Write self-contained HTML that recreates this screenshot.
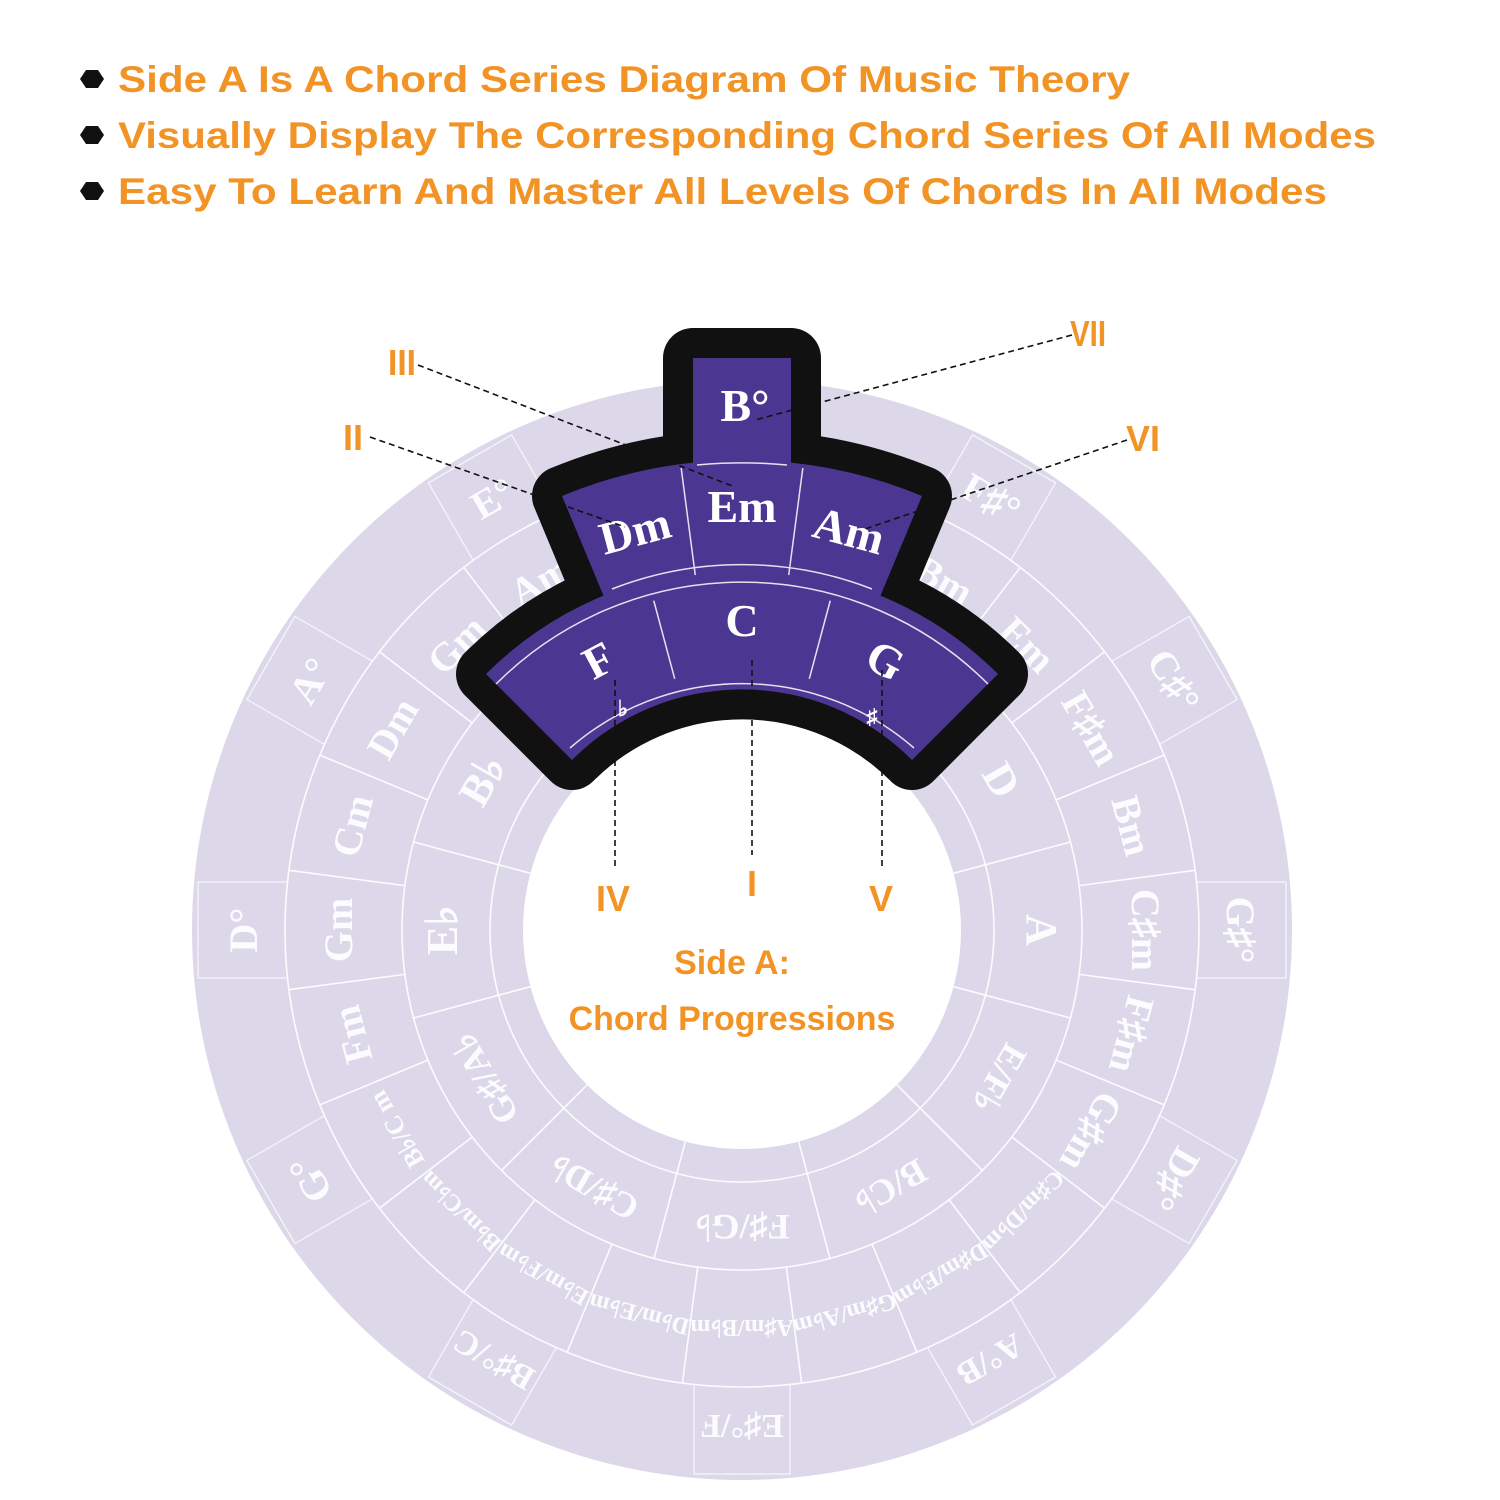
<!DOCTYPE html>
<html><head><meta charset="utf-8"><style>
html,body{margin:0;padding:0;background:#fff;}
svg{display:block;}
</style></head><body>
<svg width="1500" height="1500" viewBox="0 0 1500 1500" xmlns="http://www.w3.org/2000/svg">
<rect width="1500" height="1500" fill="#fff"/>
<g font-family="Liberation Sans, sans-serif" font-weight="bold" font-size="37" fill="#f29326">
<polygon points="86,70 98,70 104,79 98,88 86,88 80,79" fill="#111"/>
<polygon points="86,126 98,126 104,135 98,144 86,144 80,135" fill="#111"/>
<polygon points="86,182 98,182 104,191 98,200 86,200 80,191" fill="#111"/>
<text x="118" y="92" textLength="1012" lengthAdjust="spacingAndGlyphs">Side A Is A Chord Series Diagram Of Music Theory</text>
<text x="118" y="148" textLength="1258" lengthAdjust="spacingAndGlyphs">Visually Display The Corresponding Chord Series Of All Modes</text>
<text x="118" y="204" textLength="1209" lengthAdjust="spacingAndGlyphs">Easy To Learn And Master All Levels Of Chords In All Modes</text>
</g>
<circle cx="742" cy="930" r="550" fill="#dcd8ea"/>
<g fill="none" stroke="#fff" stroke-width="1.6" opacity="0.9">
<circle cx="742" cy="930" r="252"/>
<circle cx="742" cy="930" r="340"/>
<circle cx="742" cy="930" r="457"/>
</g>
<g stroke="#fff" stroke-width="1.6" opacity="0.9">
<g id="r1"><line x1="742" y1="711" x2="742" y2="590" transform="rotate(15 742 930)"/></g>
<use href="#r1" transform="rotate(30 742 930)"/><use href="#r1" transform="rotate(60 742 930)"/><use href="#r1" transform="rotate(90 742 930)"/><use href="#r1" transform="rotate(120 742 930)"/><use href="#r1" transform="rotate(150 742 930)"/><use href="#r1" transform="rotate(180 742 930)"/><use href="#r1" transform="rotate(210 742 930)"/><use href="#r1" transform="rotate(240 742 930)"/><use href="#r1" transform="rotate(270 742 930)"/><use href="#r1" transform="rotate(300 742 930)"/><use href="#r1" transform="rotate(330 742 930)"/>
<g id="r2"><line x1="742" y1="590" x2="742" y2="473" transform="rotate(7.5 742 930)"/></g>
<use href="#r2" transform="rotate(15 742 930)"/><use href="#r2" transform="rotate(30 742 930)"/><use href="#r2" transform="rotate(45 742 930)"/><use href="#r2" transform="rotate(60 742 930)"/><use href="#r2" transform="rotate(75 742 930)"/><use href="#r2" transform="rotate(90 742 930)"/><use href="#r2" transform="rotate(105 742 930)"/><use href="#r2" transform="rotate(120 742 930)"/><use href="#r2" transform="rotate(135 742 930)"/><use href="#r2" transform="rotate(150 742 930)"/><use href="#r2" transform="rotate(165 742 930)"/><use href="#r2" transform="rotate(180 742 930)"/><use href="#r2" transform="rotate(195 742 930)"/><use href="#r2" transform="rotate(210 742 930)"/><use href="#r2" transform="rotate(225 742 930)"/><use href="#r2" transform="rotate(240 742 930)"/><use href="#r2" transform="rotate(255 742 930)"/><use href="#r2" transform="rotate(270 742 930)"/><use href="#r2" transform="rotate(285 742 930)"/><use href="#r2" transform="rotate(300 742 930)"/><use href="#r2" transform="rotate(315 742 930)"/><use href="#r2" transform="rotate(330 742 930)"/><use href="#r2" transform="rotate(345 742 930)"/>
<g id="r3"><path d="M694,475 L694,386 L790,386 L790,475" fill="none" stroke-width="1.3" opacity="0.8"/></g>
<use href="#r3" transform="rotate(30 742 930)"/><use href="#r3" transform="rotate(60 742 930)"/><use href="#r3" transform="rotate(90 742 930)"/><use href="#r3" transform="rotate(120 742 930)"/><use href="#r3" transform="rotate(150 742 930)"/><use href="#r3" transform="rotate(180 742 930)"/><use href="#r3" transform="rotate(210 742 930)"/><use href="#r3" transform="rotate(240 742 930)"/><use href="#r3" transform="rotate(270 742 930)"/><use href="#r3" transform="rotate(300 742 930)"/><use href="#r3" transform="rotate(330 742 930)"/>
</g>
<circle cx="742" cy="930" r="219" fill="#fff"/>
<g font-family="Liberation Serif, serif" font-weight="bold" fill="#fff" opacity="0.9" text-anchor="middle">
<g font-size="44">
<text x="742" y="645" transform="rotate(30 742 930)">G</text>
<text x="742" y="645" transform="rotate(60 742 930)">D</text>
<text x="742" y="645" transform="rotate(90 742 930)">A</text>
<text x="742" y="645" transform="rotate(120 742 930)" font-size="36">E/F♭</text>
<text x="742" y="645" transform="rotate(150 742 930)" font-size="36">B/C♭</text>
<text x="742" y="645" transform="rotate(180 742 930)" font-size="36">F♯/G♭</text>
<text x="742" y="645" transform="rotate(210 742 930)" font-size="36">C♯/D♭</text>
<text x="742" y="645" transform="rotate(240 742 930)" font-size="36">G♯/A♭</text>
<text x="742" y="645" transform="rotate(270 742 930)">E♭</text>
<text x="742" y="645" transform="rotate(300 742 930)">B♭</text>
<text x="742" y="645" transform="rotate(330 742 930)">F</text>
</g>
<g font-size="40">
<text x="742" y="540" transform="rotate(30 742 930)">Bm</text>
<text x="742" y="540" transform="rotate(45 742 930)">Em</text>
<text x="742" y="540" transform="rotate(60 742 930)">F♯m</text>
<text x="742" y="540" transform="rotate(75 742 930)">Bm</text>
<text x="742" y="540" transform="rotate(90 742 930)">C♯m</text>
<text x="742" y="540" transform="rotate(105 742 930)">F♯m</text>
<text x="742" y="540" transform="rotate(120 742 930)">G♯m</text>
<text x="742" y="540" transform="rotate(135 742 930)" font-size="24">C♯m/D♭m</text>
<text x="742" y="540" transform="rotate(150 742 930)" font-size="24">D♯m/E♭m</text>
<text x="742" y="540" transform="rotate(165 742 930)" font-size="24">G♯m/A♭m</text>
<text x="742" y="540" transform="rotate(180 742 930)" font-size="24">A♯m/B♭m</text>
<text x="742" y="540" transform="rotate(195 742 930)" font-size="24">D♭m/E♭m</text>
<text x="742" y="540" transform="rotate(210 742 930)" font-size="24">E♭m/F♭m</text>
<text x="742" y="540" transform="rotate(225 742 930)" font-size="24">B♭m/C♭m</text>
<text x="742" y="540" transform="rotate(240 742 930)" font-size="26">B♭/C m</text>
<text x="742" y="540" transform="rotate(255 742 930)">Fm</text>
<text x="742" y="540" transform="rotate(270 742 930)">Gm</text>
<text x="742" y="540" transform="rotate(285 742 930)">Cm</text>
<text x="742" y="540" transform="rotate(300 742 930)">Dm</text>
<text x="742" y="540" transform="rotate(315 742 930)">Gm</text>
<text x="742" y="540" transform="rotate(330 742 930)">Am</text>
</g>
<g font-size="40">
<text x="742" y="445" transform="rotate(30 742 930)">F♯°</text>
<text x="742" y="445" transform="rotate(60 742 930)">C♯°</text>
<text x="742" y="445" transform="rotate(90 742 930)">G♯°</text>
<text x="742" y="445" transform="rotate(120 742 930)">D♯°</text>
<text x="742" y="445" transform="rotate(150 742 930)" font-size="34">A°/B</text>
<text x="742" y="445" transform="rotate(180 742 930)" font-size="34">E♯°/F</text>
<text x="742" y="445" transform="rotate(210 742 930)" font-size="34">B♯°/C</text>
<text x="742" y="445" transform="rotate(240 742 930)">G°</text>
<text x="742" y="445" transform="rotate(270 742 930)">D°</text>
<text x="742" y="445" transform="rotate(300 742 930)">A°</text>
<text x="742" y="445" transform="rotate(330 742 930)">E°</text>
</g>
</g>
<path d="M572,760 L486,674 A362,362 0 0 1 603.5,595.6 L562,496 A470,470 0 0 1 693,462.6 L693,358 L791,358 L791,462.6 A470,470 0 0 1 922,496 L880.5,595.6 A362,362 0 0 1 998,674 L912,760 A240,240 0 0 0 572,760 Z" fill="#111" stroke="#111" stroke-width="60" stroke-linejoin="round"/>
<path d="M572,760 L486,674 A362,362 0 0 1 603.5,595.6 L562,496 A470,470 0 0 1 693,462.6 L693,358 L791,358 L791,462.6 A470,470 0 0 1 922,496 L880.5,595.6 A362,362 0 0 1 998,674 L912,760 A240,240 0 0 0 572,760 Z" fill="#4b3791"/>
<g stroke="#fff" stroke-width="1.5" fill="none" opacity="0.85">
<path d="M496,684 A348,348 0 0 1 988,684"/>
<path d="M570,748 A262,262 0 0 1 914,748"/>
<path d="M612,589 A358,358 0 0 1 872,589"/>
<path d="M697,465 A466,466 0 0 1 787,465"/>
<line x1="742" y1="670" x2="742" y2="589" transform="rotate(-15 742 930)"/>
<line x1="742" y1="670" x2="742" y2="589" transform="rotate(15 742 930)"/>
<line x1="742" y1="572" x2="742" y2="464" transform="rotate(-7.5 742 930)"/>
<line x1="742" y1="572" x2="742" y2="464" transform="rotate(7.5 742 930)"/>
</g>
<g font-family="Liberation Serif, serif" font-weight="bold" fill="#fff" text-anchor="middle" font-size="46">
<text x="742" y="640" transform="rotate(-28 742 930)">F</text>
<text x="742" y="636">C</text>
<text x="742" y="640" transform="rotate(28 742 930)">G</text>
<text x="742" y="532" transform="rotate(-15 742 930)">Dm</text>
<text x="742" y="522">Em</text>
<text x="742" y="532" transform="rotate(15 742 930)">Am</text>
<text x="745" y="421">B°</text>
<text x="623" y="716" font-size="22">♭</text>
<text x="872" y="724" font-size="22">♯</text>
</g>
<g stroke="#111" stroke-width="1.6" stroke-dasharray="6,4" fill="none">
<line x1="418" y1="365" x2="735" y2="487"/>
<line x1="370" y1="437" x2="625" y2="527"/>
<line x1="1072" y1="335" x2="755" y2="420"/>
<line x1="1127" y1="440" x2="862" y2="530"/>
<line x1="615" y1="680" x2="615" y2="870"/>
<line x1="752" y1="660" x2="752" y2="855"/>
<line x1="882" y1="670" x2="882" y2="870"/>
</g>
<g font-family="Liberation Sans, sans-serif" font-weight="bold" fill="#f29326" text-anchor="middle">
<g font-size="36">
<text x="402" y="375" textLength="28" lengthAdjust="spacingAndGlyphs">III</text>
<text x="353" y="450">II</text>
<text x="1088" y="346" textLength="36" lengthAdjust="spacingAndGlyphs">VII</text>
<text x="1143" y="451">VI</text>
<text x="613" y="911">IV</text>
<text x="752" y="896">I</text>
<text x="881" y="911">V</text>
</g>
<g font-size="34">
<text x="732" y="974">Side A:</text>
<text x="732" y="1030">Chord Progressions</text>
</g>
</g>
</svg>
</body></html>
